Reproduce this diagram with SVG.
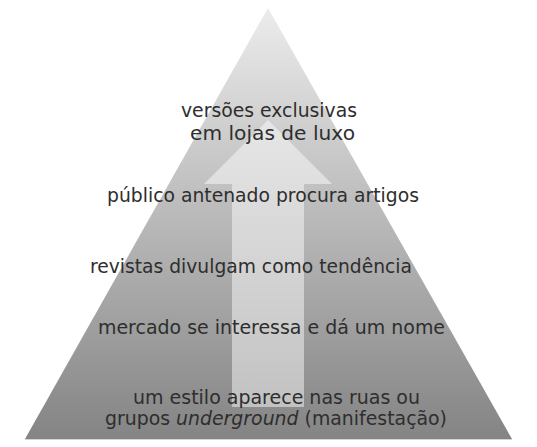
<svg xmlns="http://www.w3.org/2000/svg" width="537" height="447" viewBox="0 0 537 447">
<defs>
<linearGradient id="pyrGrad" x1="0" y1="8" x2="0" y2="439" gradientUnits="userSpaceOnUse">
<stop offset="0" stop-color="#ececec"/>
<stop offset="1" stop-color="#848484"/>
</linearGradient>
</defs>
<style>
.lbl{font-family:"DejaVu Sans",Verdana,sans-serif;font-size:19.6px;fill:#2e2e2e}
.it{font-style:italic}
</style>
<rect x="0" y="0" width="537" height="447" fill="#ffffff"/>
<g id="pyramid">
<polygon points="268,8 512,439 25,439" fill="url(#pyrGrad)"/>
<line x1="25" y1="439.5" x2="512" y2="439.5" stroke="#d4d4d4" stroke-width="1"/>
</g>
<g id="connectors">
<polygon points="268,120 332,184 304,184 304,407 232,407 232,184 204,184" fill="#ffffff" fill-opacity="0.47"/>
</g>
<g id="level5">
<text class="lbl" x="181" y="117" textLength="176" lengthAdjust="spacingAndGlyphs">versões exclusivas</text>
<text class="lbl" x="190" y="139.5" textLength="165" lengthAdjust="spacingAndGlyphs">em lojas de luxo</text>
</g>
<g id="level4">
<text class="lbl" x="107" y="202" textLength="312" lengthAdjust="spacingAndGlyphs">público antenado procura artigos</text>
</g>
<g id="level3">
<text class="lbl" x="90" y="272.5" textLength="322" lengthAdjust="spacingAndGlyphs">revistas divulgam como tendência</text>
</g>
<g id="level2">
<text class="lbl" x="98" y="334" textLength="347" lengthAdjust="spacingAndGlyphs">mercado se interessa e dá um nome</text>
</g>
<g id="level1">
<text class="lbl" x="133" y="403.5" textLength="287" lengthAdjust="spacingAndGlyphs">um estilo aparece nas ruas ou</text>
<text class="lbl" x="105" y="425" textLength="342" lengthAdjust="spacingAndGlyphs">grupos <tspan class="it">underground</tspan> (manifestação)</text>
</g>
</svg>
